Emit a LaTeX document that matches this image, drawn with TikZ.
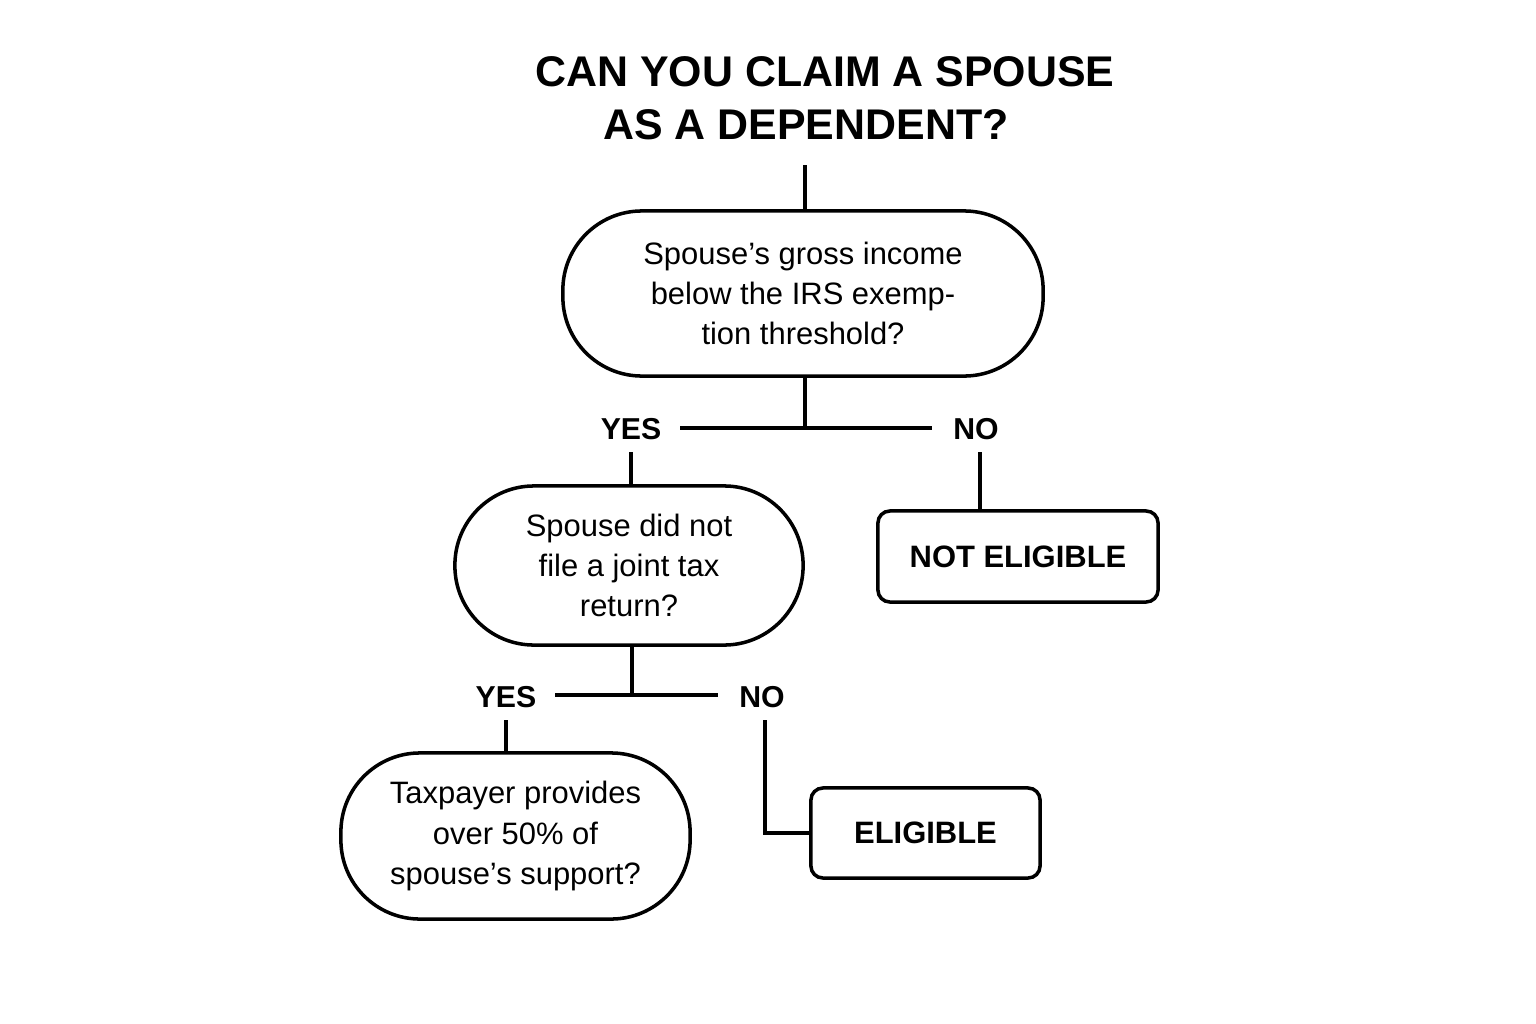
\documentclass[tikz,border=0pt]{standalone}
\usepackage{fontspec}
\setmainfont{Liberation Sans}
\usetikzlibrary{positioning}

\tikzset{
  question/.style={draw,line width=1pt,rounded corners=0.79cm,align=center,
    font=\fontsize{8.8}{11.4}\selectfont,inner sep=0pt},
  answer/.style={draw,line width=1pt,rounded corners=0.12cm,
    font=\fontsize{8.8}{11}\selectfont\bfseries,inner sep=0pt},
  branch/.style={font=\fontsize{8.6}{10}\selectfont\bfseries},
  link/.style={line width=1pt}
}

\begin{document}
\begin{tikzpicture}[x=0.01cm,y=-0.01cm]
\useasboundingbox (0,0) rectangle (1536,1024);

\node[font=\fontsize{12.2}{15}\selectfont\bfseries] (title1) at (825,72) {CAN YOU CLAIM A SPOUSE};
\node[font=\fontsize{12.2}{15}\selectfont\bfseries] (title2) at (806,125) {AS A DEPENDENT?};

\node[question,minimum width=4.8cm,minimum height=1.65cm] (income) at (803,293.5)
{Spouse's gross income\\ below the IRS exemp-\\ tion threshold?};
\node[question,minimum width=3.48cm,minimum height=1.59cm] (joint) at (629,565.5)
{Spouse did not\\ file a joint tax\\ return?};
\node[question,minimum width=3.49cm,minimum height=1.66cm] (support) at (515.5,836)
{Taxpayer provides\\ over 50\% of\\ spouse's support?};
\node[answer,minimum width=2.8cm,minimum height=0.91cm] (noteligible) at (1018,556.5) {NOT ELIGIBLE};
\node[answer,minimum width=2.29cm,minimum height=0.9cm] (eligible) at (925.5,833) {ELIGIBLE};

\node[branch] (yes1) at (631,429) {YES};
\node[branch] (no1) at (976,429) {NO};
\node[branch] (yes2) at (506,697) {YES};
\node[branch] (no2) at (762,697) {NO};

\coordinate (top) at (805,165);
\coordinate (fork1) at (805,428);
\coordinate (fork2) at (632,695);
\coordinate (corner) at (765,833);

\draw[link] (top) -- (income.north -| top);
\draw[link] (income.south -| fork1) -- (fork1);
\draw[link] (680,428) -- (932,428);
\draw[link] (631,452) -- (joint.north -| yes1);
\draw[link] (980,452) -- (980,511);
\draw[link] (joint.south -| fork2) -- (fork2);
\draw[link] (555,695) -- (718,695);
\draw[link] (506,720) -- (support.north -| yes2);
\draw[link] (765,720) -- (corner) -- (eligible.west);
\end{tikzpicture}
\end{document}
